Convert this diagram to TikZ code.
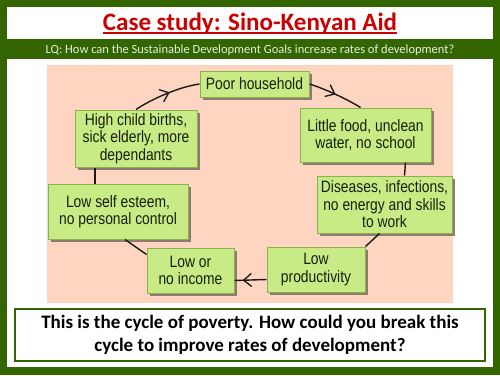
\documentclass[tikz,border=0pt]{standalone}
\usepackage{fontspec}
\setmainfont{Carlito}
\newfontfamily\cyclefont{Liberation Sans}[FakeStretch=0.84]
\usetikzlibrary{arrows.meta, positioning, shadows, decorations.markings}
\definecolor{FrameGreen}{HTML}{336600}
\definecolor{Peach}     {HTML}{FDD5C1}
\definecolor{BoxFill}   {HTML}{C9EB85}
\definecolor{BoxLine}   {HTML}{8CB04E}
\definecolor{BoxText}   {HTML}{16200A}
\definecolor{TitleRed}  {HTML}{CC0000}
\definecolor{LQText}    {HTML}{E6EEDD}
\definecolor{ShadowGrey}{HTML}{8C7B6E}

\begin{document}
\begin{tikzpicture}[x=1pt, y=-1pt,
  cbox/.style={draw=BoxLine, fill=BoxFill, line width=1pt, text=BoxText,
               align=center, inner sep=2pt,
               font=\cyclefont\fontsize{16.5}{17.5}\selectfont,
               drop shadow={shadow xshift=2.5pt, shadow yshift=-2.5pt,
                            fill=ShadowGrey, opacity=1}},
  link/.style={line width=1.4pt, color=black!90},
  midarr/.style={link, postaction={decorate},
                 decoration={markings, mark=at position #1 with
                   {\arrow{Straight Barb[length=8pt, width=13pt, line width=1.3pt]}}}},
]
  \useasboundingbox (0,0) rectangle (500,375);
  \fill[FrameGreen] (0,0) rectangle (500,375);
  \fill[white] (7,7) rectangle (493,39);
  \fill[white] (7,59) rectangle (493,367);
  \fill[Peach] (47,65) rectangle (453,303);

  \node[inner sep=0pt, anchor=base, text=TitleRed,
        font=\bfseries\fontsize{25}{28}\selectfont] (title) at (250,30)
    {Case study: Sino-Kenyan Aid};
  \draw[TitleRed, line width=1.8pt] ([yshift=-3pt]title.base west) -- ([yshift=-3pt]title.base east);
  \node[inner sep=0pt, anchor=base, text=LQText,
        font=\fontsize{12.5}{15}\selectfont] (lq) at (250,53)
    {LQ: How can the Sustainable Development Goals increase rates of development?};

  \node[cbox, minimum width=109pt, minimum height=26pt] (poor) at (254.5,84) {Poor household};
  \node[cbox, minimum width=131pt, minimum height=54pt] (food) at (365.5,135)
    {Little food, unclean\\water, no school};
  \node[cbox, minimum width=135pt, minimum height=57pt] (dis) at (384.5,204.5)
    {Diseases, infections,\\no energy and skills\\to work};
  \node[cbox, minimum width=98pt, minimum height=45pt] (prod) at (316,269.5)
    {Low\\productivity};
  \node[cbox, minimum width=87pt, minimum height=45pt] (inc) at (190.5,270.5)
    {Low or\\no income};
  \node[cbox, minimum width=140pt, minimum height=55pt] (esteem) at (118,211.5)
    {Low self esteem,\\no personal control};
  \node[cbox, minimum width=122pt, minimum height=57pt] (births) at (136,138.5)
    {High child births,\\sick elderly, more\\dependants};

  \draw[midarr=0.55] (births.north) .. controls (150,100) and (178,87) .. (poor.west);
  \draw[midarr=0.5] (poor.east) .. controls (325,89) and (345,98) .. ([xshift=-5pt]food.north);
  \draw[link] ([xshift=40pt]food.south) -- ([xshift=20pt]dis.north);
  \draw[link] ([xshift=-5pt]dis.south) -- (prod.north east);
  \draw[midarr=0.75] ([yshift=-10pt]prod.west) -- ([yshift=-10pt]inc.east);
  \draw[link] ([yshift=-7pt]inc.north west) -- ([xshift=7pt]esteem.south);
  \draw[link] ([xshift=-23pt]esteem.north) -- ([xshift=-41pt]births.south);

  \node[draw=FrameGreen, line width=2.2pt, fill=white, minimum width=470pt,
        minimum height=52pt, align=center,
        font=\bfseries\fontsize{19}{23}\selectfont] (q) at (250,335)
    {This is the cycle of poverty. How could you break this\\cycle to improve rates of development?};
\end{tikzpicture}
\end{document}
